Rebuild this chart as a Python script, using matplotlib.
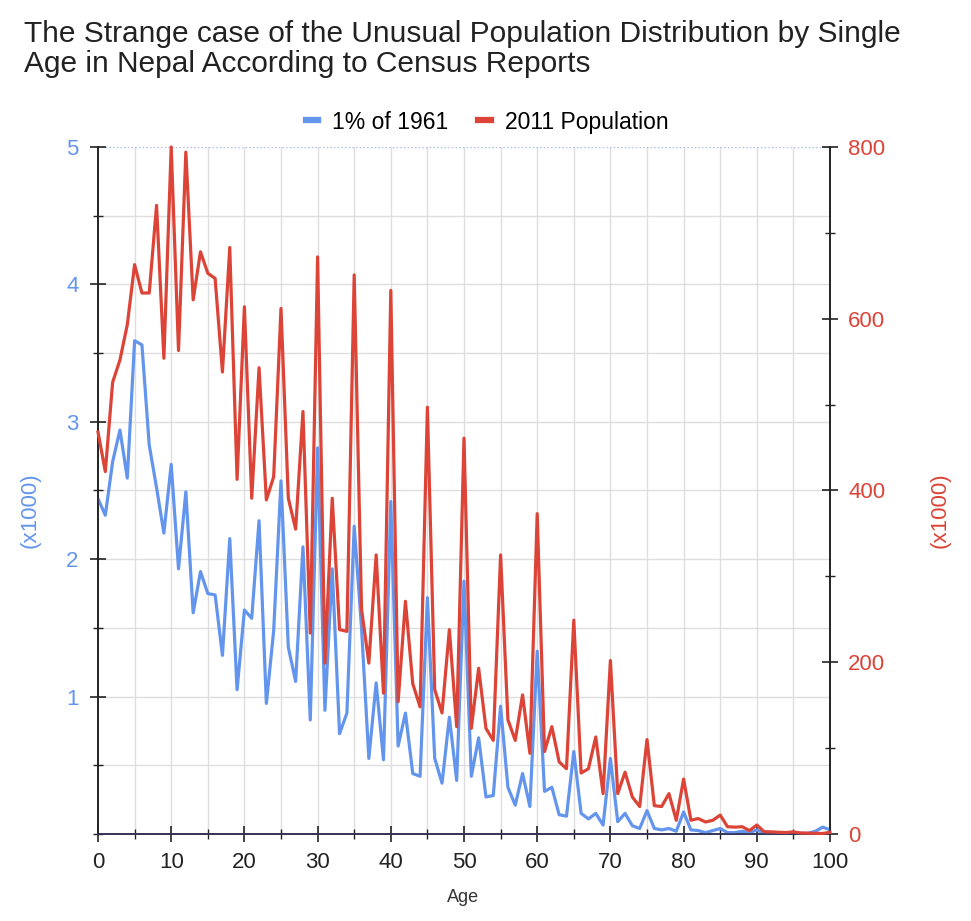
import matplotlib
matplotlib.use("Agg")
import matplotlib.pyplot as plt
from matplotlib.ticker import MultipleLocator, FixedLocator
import numpy as np

plt.rcParams['font.family'] = ['Liberation Sans', 'DejaVu Sans']

ages = list(range(0, 101))
pop_1961 = [2.44, 2.32, 2.71, 2.94, 2.59, 3.59, 3.56, 2.83, 2.52, 2.19,
            2.69, 1.93, 2.49, 1.61, 1.91, 1.75, 1.74, 1.30, 2.15, 1.05,
            1.63, 1.57, 2.28, 0.95, 1.48, 2.57, 1.36, 1.11, 2.09, 0.83,
            2.81, 0.90, 1.93, 0.73, 0.88, 2.24, 1.50, 0.55, 1.10, 0.54,
            2.42, 0.64, 0.88, 0.44, 0.42, 1.72, 0.55, 0.37, 0.85, 0.39,
            1.84, 0.42, 0.70, 0.27, 0.28, 0.93, 0.34, 0.21, 0.44, 0.20,
            1.33, 0.31, 0.34, 0.14, 0.13, 0.60, 0.15, 0.11, 0.15, 0.065,
            0.55, 0.09, 0.15, 0.06, 0.04, 0.17, 0.04, 0.03, 0.04, 0.02,
            0.16, 0.03, 0.025, 0.01, 0.025, 0.04, 0.01, 0.01, 0.02, 0.01,
            0.03, 0.005, 0.005, 0.005, 0.005, 0.01, 0.005, 0.005, 0.02, 0.05,
            0.03]
pop_2011 = [468, 422, 526, 552, 593, 663, 630, 630, 732, 554,
            800, 563, 794, 622, 678, 653, 647, 538, 683, 413,
            614, 391, 543, 389, 416, 612, 391, 355, 492, 234,
            672, 199, 391, 238, 236, 651, 262, 199, 325, 164,
            633, 154, 271, 175, 148, 497, 168, 141, 238, 125,
            461, 123, 193, 123, 109, 325, 133, 109, 162, 94,
            373, 96, 125, 84, 76, 249, 71, 76, 113, 47,
            202, 47, 72, 43, 32, 110, 33, 32, 47, 16,
            64, 16, 18, 14, 16, 22, 8.5, 8, 8.5, 4,
            10.5, 2.7, 2.5, 2, 1.7, 2.5, 1.2, 1, 0.8, 0.6,
            2]

title = "The Strange case of the Unusual Population Distribution by Single\nAge in Nepal According to Census Reports"
series_names = ['1% of 1961', '2011 Population']
blue = '#6495ED'
red = '#DB4437'

fig = plt.figure(figsize=(9.71, 9.21), dpi=100)
ax = fig.add_axes([98/971, 1-834/921, (830-98)/971, (834-147)/921])
ax2 = ax.twinx()

ax.set_xlim(0, 100)
ax.set_ylim(0, 5)
ax2.set_ylim(0, 800)

# gridlines
for yv in np.arange(0.5, 4.99, 0.5):
    ax.axhline(yv, color='#dedede', lw=1.0, zorder=0)
for xv in range(5, 100, 5):
    ax.axvline(xv, color='#dedede', lw=1.0, zorder=0)
ax.axhline(5, color='#aab8e8', lw=1.0, ls=':', zorder=1)

l1, = ax.plot(ages, pop_1961, color=blue, lw=2.3, zorder=3)
l2, = ax2.plot(ages, pop_2011, color=red, lw=2.3, zorder=3, clip_on=False)

# ticks
ax.xaxis.set_major_locator(MultipleLocator(10))
ax.xaxis.set_minor_locator(MultipleLocator(5))
ax.yaxis.set_major_locator(FixedLocator([1, 2, 3, 4, 5]))
ax.yaxis.set_minor_locator(MultipleLocator(0.5))
ax2.yaxis.set_major_locator(MultipleLocator(200))
ax2.yaxis.set_minor_locator(MultipleLocator(100))

ax.tick_params(axis='x', which='major', direction='inout', length=12, width=1.2,
               labelsize=16, colors='#222222', pad=7)
ax.tick_params(axis='x', which='minor', direction='inout', length=7, width=1, color='#222222')
ax.tick_params(axis='y', which='major', direction='inout', length=12, width=1.2,
               labelsize=16, labelcolor=blue, color='#222222', pad=8)
ax.tick_params(axis='y', which='minor', direction='inout', length=7, width=1, color='#222222')
ax2.tick_params(axis='y', which='major', direction='inout', length=12, width=1.2,
                labelsize=16, labelcolor=red, color='#222222', pad=7)
ax2.tick_params(axis='y', which='minor', direction='inout', length=7, width=1, color='#222222')

for a in (ax, ax2):
    a.spines['top'].set_visible(False)
    a.spines['left'].set_color('#222222')
    a.spines['right'].set_color('#222222')
    a.spines['bottom'].set_color('#333355')
    a.spines['left'].set_linewidth(1.2)
    a.spines['right'].set_linewidth(1.2)
    a.spines['bottom'].set_linewidth(1.2)

fig.text(463/971, 1-897/921, 'Age', fontsize=13, color='#333333', ha='center', va='center')
fig.text(30/971, 1-510/921, '(x1000)', fontsize=16, color=blue, rotation=90,
         ha='center', va='center')
fig.text(940/971, 1-510/921, '(x1000)', fontsize=16, color=red, rotation=90,
         ha='center', va='center')

fig.text(24/971, 1-20/921, title, fontsize=21.5, color='#222222', ha='left', va='top',
         linespacing=1.08)

leg = fig.legend([l1, l2], series_names, loc='center',
                 bbox_to_anchor=(487/971, 1-122/921), ncol=2, frameon=False,
                 fontsize=16.5, handlelength=0.55, handletextpad=0.6, columnspacing=1.3)
for h in leg.legend_handles:
    h.set_linewidth(4.5)

fig.savefig('out.png', dpi=100)
